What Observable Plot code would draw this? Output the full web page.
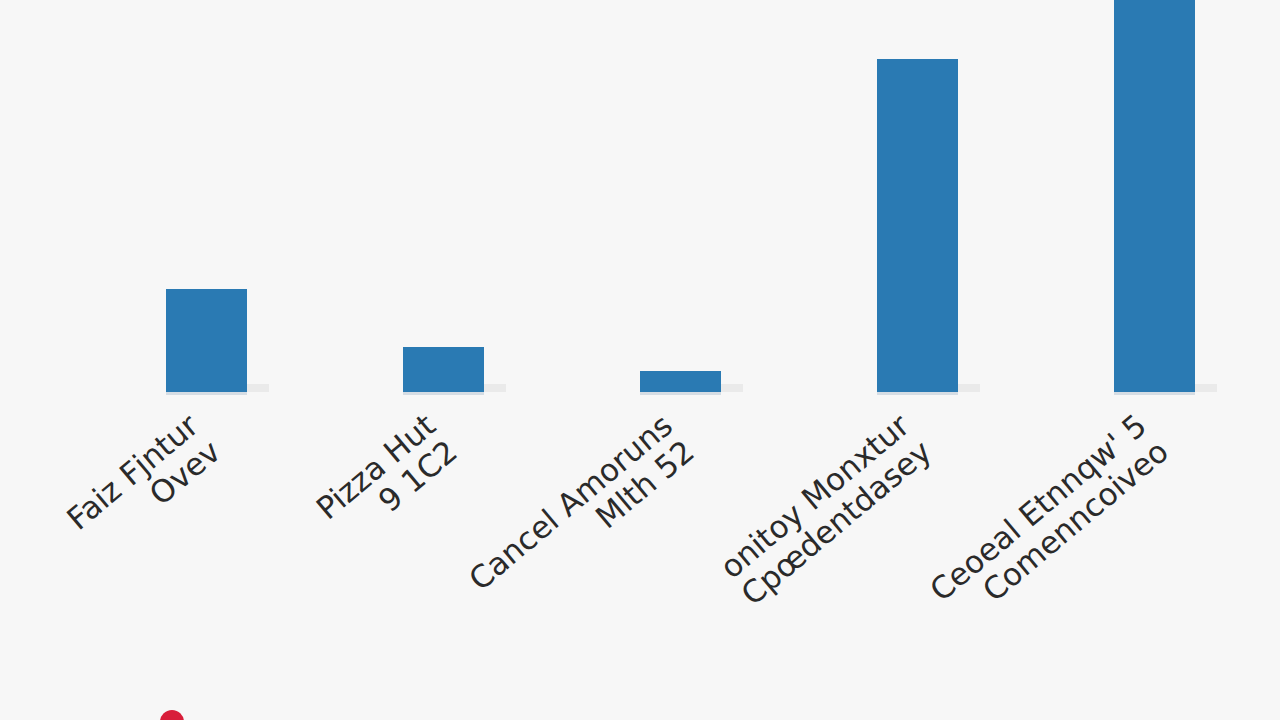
<!DOCTYPE html>
<html>
<head>
<meta charset="utf-8">
<script src="https://cdn.jsdelivr.net/npm/d3@7"></script>
<script src="https://cdn.jsdelivr.net/npm/@observablehq/plot@0.6"></script>
<style>
  html, body { margin: 0; padding: 0; background: #f7f7f7; width: 1280px; height: 720px; overflow: hidden; }
  #chart { position: relative; width: 1280px; height: 720px; }
  #dot { position: absolute; left: 160px; top: 710px; width: 24px; height: 24px; border-radius: 50%; background: #d81e3a; }
</style>
</head>
<body>
<div id="chart"></div>
<script>
const categories = [
  "Faiz Fjntur\nOvev",
  "Pizza Hut\n9 1C2",
  "Cancel Amoruns\nMlth 52",
  "onitoy Monxtur\nCpœdentdasey",
  "Ceoeal Etnnqw' 5\nComenncoiveo"
];
const values = [103, 45, 21, 333, 392];

const data = categories.map((c, i) => ({category: c, value: values[i]}));

const chart = Plot.plot({
  width: 1280,
  height: 720,
  marginTop: 0,
  marginBottom: 328,
  marginLeft: 93,
  marginRight: 12,
  style: {background: "#f7f7f7", fontFamily: "DejaVu Sans"},
  x: {domain: categories, paddingInner: 0.66, paddingOuter: 0.3, axis: null},
  y: {domain: [0, 392], axis: null},
  marks: [
    Plot.barY(data, {x: "category", y1: 0, y2: 8, dx: 22, fill: "#bbb", fillOpacity: 0.2}),
    Plot.barY(data, {x: "category", y: "value", fill: "#2a7ab3"}),
    Plot.tickY(data, {x: "category", y: 0, stroke: "#d6dde4", strokeWidth: 3, dy: 1}),
    Plot.text(data, {
      x: "category", y: 0, text: "category",
      rotate: -40, textAnchor: "end", lineAnchor: "top",
      dx: -22, dy: 18, fontSize: 31, lineHeight: 1.1, fill: "#2a2a2a"
    })
  ]
});
document.getElementById("chart").appendChild(chart);
const dot = document.createElement("div");
dot.id = "dot";
document.getElementById("chart").appendChild(dot);
</script>
</body>
</html>
